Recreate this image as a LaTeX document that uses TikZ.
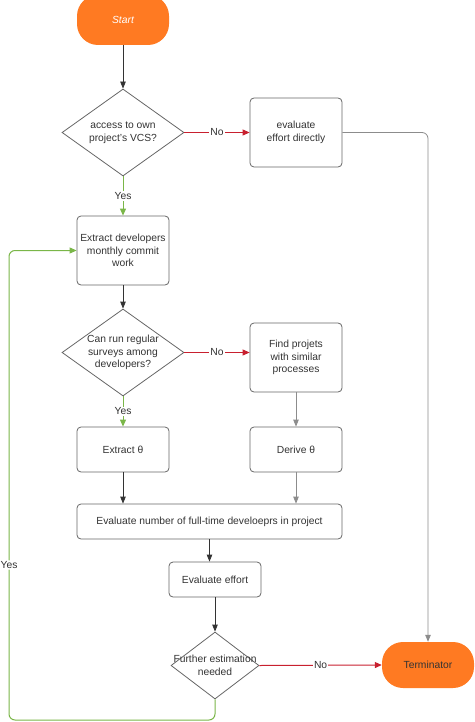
\documentclass[tikz,border=0pt]{standalone}
\usepackage{fontspec}
\setmainfont{Liberation Sans}
\usetikzlibrary{shapes.geometric,arrows.meta}
\definecolor{orng}{HTML}{FF7A22}
\definecolor{redc}{HTML}{C8202F}
\definecolor{grnc}{HTML}{7AB648}
\definecolor{bord}{HTML}{666666}
\definecolor{txt}{HTML}{333333}
\definecolor{lgray}{HTML}{8C8C8C}
\begin{document}
\begin{tikzpicture}[x=1pt,y=-1pt,
 every node/.style={font=\fontsize{10.3}{12.5}\selectfont, text=txt},
 box/.style={draw=bord, line width=0.8pt, rounded corners=4pt, align=center, inner sep=0pt, minimum width=92pt},
 dia/.style={diamond, draw=bord, line width=0.8pt, inner sep=0pt},
 dtext/.style={align=center, inner sep=0pt},
 termin/.style={fill=orng, rounded corners=21pt, inner sep=0pt, minimum width=92pt},
 conn/.style={draw=txt, line width=0.8pt, -{Triangle[length=7pt,width=5.5pt]}},
 gconn/.style={draw=lgray, line width=0.8pt, -{Triangle[length=7pt,width=5.5pt]}},
 noarr/.style={draw=redc, line width=1pt, -{Triangle[length=7pt,width=6pt]}},
 yesarr/.style={draw=grnc, line width=1pt, -{Triangle[length=7pt,width=6pt]}},
 lbl/.style={fill=white, inner sep=1pt, text=txt}
]
\useasboundingbox (0,0) rectangle (474,722);

\node[termin, minimum height=50pt, text=white, font=\fontsize{10.3}{12.5}\selectfont\itshape] (start) at (123,20) {Start};

\node[dia, minimum width=122pt, minimum height=87pt] (d1) at (123,132.5) {};
\node[dtext] (d1t) at (d1) {access to own\\project's VCS?};

\node[box, minimum height=69pt] (evald) at (296,132.5) {evaluate\\effort directly};

\node[box, minimum height=69pt] (exdev) at (123,250.5) {Extract developers\\monthly commit\\work};

\node[dia, minimum width=122pt, minimum height=87pt] (d2) at (123,352.5) {};
\node[dtext] (d2t) at (d2) {Can run regular\\surveys among\\developers?};

\node[box, minimum height=69pt] (find) at (296,357.5) {Find projets\\with similar\\processes};

\node[box, minimum height=45pt] (exth) at (123,449.5) {Extract θ};
\node[box, minimum height=45pt] (derth) at (296,449.5) {Derive θ};

\node[box, minimum width=265pt, minimum height=35pt] (evnum) at (209.5,521.5) {Evaluate number of full-time develoeprs in project};

\node[box, minimum height=35pt] (ef) at (215,579.5) {Evaluate effort};

\node[dia, minimum width=88pt, minimum height=67pt] (d3) at (215,665.5) {};
\node[dtext] (d3t) at (d3) {Further estimation\\needed};

\node[termin, minimum height=46pt] (term) at (428,665) {Terminator};

\coordinate (loopL) at (9,720);

% connectors
\draw[conn] (start) -- (d1);
\draw[noarr] (d1.east) -- node[lbl] {No} (evald.west);
\draw[yesarr] (d1.south) -- node[lbl] {Yes} (exdev.north);
\draw[gconn, rounded corners=6pt] (evald.east) -| (term.north);
\draw[conn] (exdev.south) -- (d2.north);
\draw[noarr] (d2.east) -- node[lbl] {No} (find.west |- d2.east);
\draw[yesarr] (d2.south) -- node[lbl] {Yes} (exth.north);
\draw[gconn] (find.south) -- (derth.north);
\draw[conn] (exth.south) -- (exth.south |- evnum.north);
\draw[gconn] (derth.south) -- (derth.south |- evnum.north);
\draw[conn] (evnum.south) -- (evnum.south |- ef.north);
\draw[conn] (ef.south) -- (d3.north);
\draw[noarr] (d3.east) -- node[lbl] {No} (term.west);
\draw[yesarr, rounded corners=6pt] (d3.south) |- (loopL) -- node[lbl, pos=0.33] {Yes} (loopL |- exdev.west) -- (exdev.west);
\end{tikzpicture}
\end{document}
